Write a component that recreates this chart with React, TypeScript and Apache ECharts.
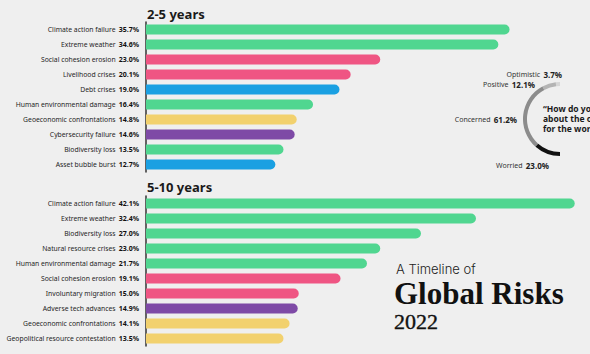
import React, { useEffect, useRef } from "react";
import * as echarts from "echarts";

const shortCats = [
  "Climate action failure",
  "Extreme weather",
  "Social cohesion erosion",
  "Livelihood crises",
  "Debt crises",
  "Human environmental damage",
  "Geoeconomic confrontations",
  "Cybersecurity failure",
  "Biodiversity loss",
  "Asset bubble burst",
];
const shortVals = [35.7, 34.6, 23.0, 20.1, 19.0, 16.4, 14.8, 14.6, 13.5, 12.7];
const shortGroups = ["env", "env", "soc", "soc", "eco", "env", "geo", "tech", "env", "eco"];

const longCats = [
  "Climate action failure",
  "Extreme weather",
  "Biodiversity loss",
  "Natural resource crises",
  "Human environmental damage",
  "Social cohesion erosion",
  "Involuntary migration",
  "Adverse tech advances",
  "Geoeconomic confrontations",
  "Geopolitical resource contestation",
];
const longVals = [42.1, 32.4, 27.0, 23.0, 21.7, 19.1, 15.0, 14.9, 14.1, 13.5];
const longGroups = ["env", "env", "env", "env", "env", "soc", "soc", "tech", "geo", "geo"];

const outlookNames = ["Optimistic", "Positive", "Concerned", "Worried"];
const outlookVals = [3.7, 12.1, 61.2, 23.0];

const groupColors: Record<string, string> = {
  env: "#50d690",
  soc: "#ef5583",
  eco: "#1aa0e2",
  geo: "#f2d16e",
  tech: "#7e4aa6",
};
const outlookColors = ["#d6d6d6", "#b4b4b4", "#8c8c8c", "#111111"];

export default function App() {
  const ref = useRef<HTMLDivElement>(null);
  useEffect(() => {
    if (!ref.current) return;
    const chart = echarts.init(ref.current, null, { renderer: "svg" });
    const font = "Noto Sans";
    const mkAxisLabel = (vals: number[]) => ({
      fontFamily: font,
      margin: 7,
      interval: 0,
      formatter: (name: string, idx: number) => `{n|${name}} {v|${vals[idx].toFixed(1)}%}`,
      rich: {
        n: { fontSize: 6.8, color: "#1e1e1e", fontFamily: font },
        v: { fontSize: 7, color: "#111", fontWeight: "bold", fontFamily: font },
      },
    });
    const bars = (vals: number[], groups: string[]) =>
      vals.map((v, i) => ({ value: v, itemStyle: { color: groupColors[groups[i]] } }));

    const pieData = outlookNames.map((n, i) => ({
      name: n,
      value: outlookVals[i],
      itemStyle: { color: outlookColors[i] },
    }));
    const total = outlookVals.reduce((a, b) => a + b, 0);
    pieData.push({ name: "blank", value: total, itemStyle: { color: "transparent" } });

    const labelPos = [
      [562, 74],
      [535, 84],
      [517, 119],
      [549, 165],
    ];

    chart.setOption({
      animation: false,
      backgroundColor: "#efefef",
      grid: [
        { left: 146, top: 22, right: 0, height: 150 },
        { left: 146, top: 196, right: 0, height: 150 },
      ],
      xAxis: [
        { gridIndex: 0, type: "value", min: 0, max: 43.6, show: false },
        { gridIndex: 1, type: "value", min: 0, max: 43.6, show: false },
      ],
      yAxis: [
        {
          gridIndex: 0,
          type: "category",
          inverse: true,
          data: shortCats,
          axisLine: { show: true, lineStyle: { color: "#333", width: 1.5 } },
          axisTick: { show: false },
          axisLabel: mkAxisLabel(shortVals),
        },
        {
          gridIndex: 1,
          type: "category",
          inverse: true,
          data: longCats,
          axisLine: { show: true, lineStyle: { color: "#333", width: 1.5 } },
          axisTick: { show: false },
          axisLabel: mkAxisLabel(longVals),
        },
      ],
      series: [
        {
          type: "bar",
          xAxisIndex: 0,
          yAxisIndex: 0,
          barWidth: 10,
          data: bars(shortVals, shortGroups),
          itemStyle: { borderRadius: [0, 5, 5, 0] },
        },
        {
          type: "bar",
          xAxisIndex: 1,
          yAxisIndex: 1,
          barWidth: 10,
          data: bars(longVals, longGroups),
          itemStyle: { borderRadius: [0, 5, 5, 0] },
        },
        {
          type: "pie",
          center: [560, 119],
          radius: [33, 37],
          startAngle: 90,
          clockwise: false,
          silent: true,
          label: { show: false },
          labelLine: { show: false },
          data: pieData,
        },
      ],
      graphic: [
        {
          type: "text",
          left: 147,
          top: 7,
          style: { text: "2-5 years", fontFamily: font, fontWeight: "bold", fontSize: 13, fill: "#1a1a1a" },
        },
        {
          type: "text",
          left: 147,
          top: 180,
          style: { text: "5-10 years", fontFamily: font, fontWeight: "bold", fontSize: 13, fill: "#1a1a1a" },
        },
        ...outlookNames.map((n, i) => ({
          type: "text",
          x: labelPos[i][0],
          y: labelPos[i][1],
          style: {
            text: `{n|${n}} {v|${outlookVals[i].toFixed(1)}%}`,
            align: "right",
            verticalAlign: "middle",
            rich: {
              n: { fontSize: 7, fill: "#333", fontFamily: font },
              v: { fontSize: 8, fill: "#222", fontWeight: "bold", fontFamily: font },
            },
          },
        })),
        {
          type: "text",
          x: 543,
          y: 103,
          style: {
            text: "\u201CHow do you feel\nabout the outlook\nfor the world?\u201D",
            fontFamily: font,
            fontWeight: "bold",
            fontSize: 8.5,
            lineHeight: 10,
            fill: "#1a1a1a",
          },
        },
        {
          type: "text",
          x: 396,
          y: 262,
          style: { text: "A Timeline of", fontFamily: "Inter", fontWeight: 300, fontSize: 13, lineHeight: 14, fill: "#222" },
        },
        {
          type: "text",
          x: 394,
          y: 279,
          style: { text: "Global Risks", fontFamily: "Liberation Serif", fontWeight: "bold", fontSize: 31, lineHeight: 28, fill: "#111" },
        },
        {
          type: "text",
          x: 394,
          y: 311,
          style: { text: "2022", fontFamily: "Liberation Serif", fontSize: 22, lineHeight: 20, fill: "#111", stroke: "#111", lineWidth: 0.4 },
        },
      ],
    });
    return () => chart.dispose();
  }, []);
  return (
    <div
      ref={ref}
      style={{ position: "fixed", left: 0, top: 0, width: 590, height: 354 }}
    />
  );
}
